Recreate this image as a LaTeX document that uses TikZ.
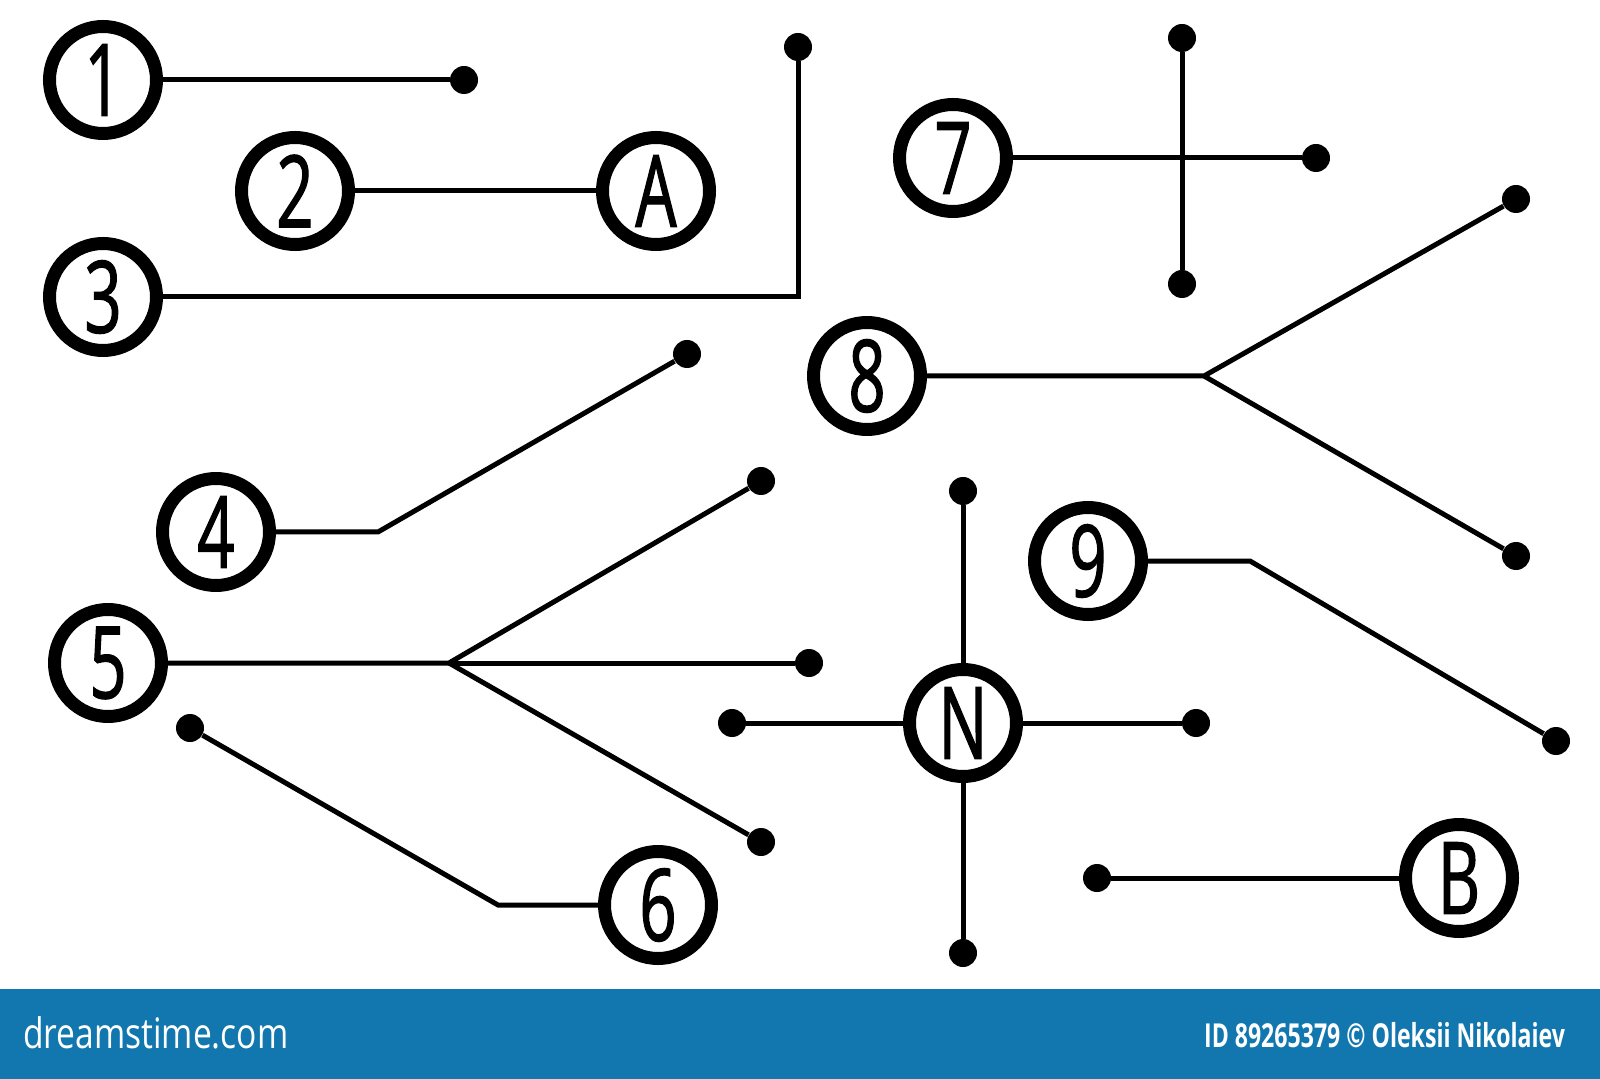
\documentclass[tikz,border=0pt]{standalone}
\usepackage{fontspec}
\newfontfamily\markfont[FakeStretch=0.65,FakeBold=1.2]{Open Sans}
\newfontfamily\barfont[FakeStretch=0.8]{Open Sans}
\newfontfamily\creditfont[FakeStretch=0.7]{Open Sans}
\definecolor{barblue}{HTML}{1177AE}

\begin{document}
\begin{tikzpicture}[x=0.5pt,y=-0.5pt,
  num/.style={circle,draw,line width=6.5pt,minimum size=53.5pt,inner sep=0pt,
    fill=white,font=\markfont\fontsize{50}{50}\selectfont},
  dot/.style={circle,fill,minimum size=14pt,inner sep=0pt},
  wire/.style={line width=2.5pt}]
\useasboundingbox (0,0) rectangle (1600,1079);
\fill[barblue] (0,989) rectangle (1600,1079);

% circles
\node[num] (c1) at (103,80) {1};
\node[num] (c2) at (295,191) {2};
\node[num] (ca) at (656,191) {A};
\node[num] (c3) at (103,297) {3};
\node[num] (c4) at (216,532) {4};
\node[num] (c5) at (108,663) {5};
\node[num] (c6) at (658,905) {6};
\node[num] (c7) at (953,158) {7};
\node[num] (c8) at (867,376) {8};
\node[num] (c9) at (1088,561) {9};
\node[num] (cn) at (963,723) {N};
\node[num] (cb) at (1459,878) {B};

% end dots and bends
\node[dot] (d1) at (464,80) {};
\node[dot] (d3) at (798,47) {};
\coordinate (k3) at (798,297);
\node[dot] (d7r) at (1316,158) {};
\node[dot] (d7t) at (1182,38) {};
\node[dot] (d7b) at (1182,284) {};
\coordinate (k8) at (1204,376);
\node[dot] (d8a) at (1516,199) {};
\node[dot] (d8b) at (1516,556) {};
\coordinate (k4) at (378,532);
\node[dot] (d4) at (687,354) {};
\coordinate (k5) at (449,663);
\node[dot] (d5a) at (761,481) {};
\node[dot] (d5b) at (809,663) {};
\node[dot] (d5c) at (761,842) {};
\coordinate (k6) at (498,905);
\node[dot] (d6) at (190,728) {};
\node[dot] (dnt) at (963,491) {};
\node[dot] (dnb) at (963,953) {};
\node[dot] (dnl) at (732,723) {};
\node[dot] (dnr) at (1196,723) {};
\coordinate (k9) at (1250,561);
\node[dot] (d9) at (1556,741) {};
\node[dot] (db) at (1097,878) {};

% wires
\draw[wire] (d7t) -- (d7b);
\draw[wire] (c1) -- (d1);
\draw[wire] (c2) -- (ca);
\draw[wire] (c3) -- (k3) -- (d3);
\draw[wire] (c4) -- (k4) -- (d4);
\draw[wire] (c5) -- (k5) -- (d5a);
\draw[wire] (k5) -- (d5b);
\draw[wire] (k5) -- (d5c);
\draw[wire] (c6) -- (k6) -- (d6);
\draw[wire] (c7) -- (d7r);
\draw[wire] (c8) -- (k8) -- (d8a);
\draw[wire] (k8) -- (d8b);
\draw[wire] (dnt) -- (cn) -- (dnb);
\draw[wire] (dnl) -- (cn) -- (dnr);
\draw[wire] (c9) -- (k9) -- (d9);
\draw[wire] (db) -- (cb);

% bar texts
\node[anchor=west,text=white,font=\barfont\fontsize{21}{21}\selectfont] (site) at (16,1033) {dreamstime.com};
\node[anchor=east,text=white,font=\creditfont\bfseries\fontsize{16.5}{16.5}\selectfont] (credit) at (1572,1035) {ID 89265379 © Oleksii Nikolaiev};
\end{tikzpicture}
\end{document}
